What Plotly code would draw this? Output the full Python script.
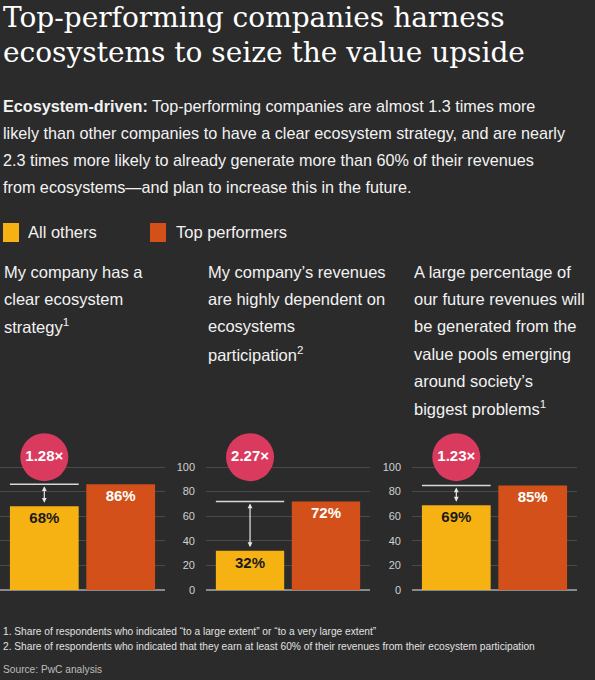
import plotly.graph_objects as go

# ---- data ----
series_names = ["All others", "Top performers"]
panel_questions = [
    ["My company has a", "clear ecosystem", "strategy<sup>1</sup>"],
    ["My company\u2019s revenues", "are highly dependent on", "ecosystems", "participation<sup>2</sup>"],
    ["A large percentage of", "our future revenues will", "be generated from the",
     "value pools emerging", "around society\u2019s", "biggest problems<sup>1</sup>"],
]
all_others = [68, 32, 69]
top_performers = [86, 72, 85]
ratio_labels = ["1.28\u00d7", "2.27\u00d7", "1.23\u00d7"]
tick_values = [0, 20, 40, 60, 80, 100]

title_lines = ["Top-performing companies harness", "ecosystems to seize the value upside"]
subtitle_lines = [
    "<b>Ecosystem-driven:</b> Top-performing companies are almost 1.3 times more",
    "likely than other companies to have a clear ecosystem strategy, and are nearly",
    "2.3 times more likely to already generate more than 60% of their revenues",
    "from ecosystems\u2014and plan to increase this in the future.",
]
footnotes = [
    "1. Share of respondents who indicated \u201cto a large extent\u201d or \u201cto a very large extent\u201d",
    "2. Share of respondents who indicated that they earn at least 60% of their revenues from their ecosystem participation",
]
source_text = "Source: PwC analysis"

# ---- style ----
W, H = 595, 680
BG = "#2b2b2b"
YELLOW = "#F6B213"
ORANGE = "#D3501A"
PINK = "#D93A5E"
SANS = "Liberation Sans, Arial, sans-serif"
SERIF = "DejaVu Serif, Georgia, serif"

def X(px):
    return px / W

def Y(py):
    return 1 - py / H

panel_px = [(0, 165), (206, 370), (412, 577)]
PX_PER_UNIT = 1.23
Y_TOP = 130
y_dom = [Y(590), Y(590 - Y_TOP * PX_PER_UNIT)]
bargap = 0.1
bw = 1 - bargap
badge_y = 108

fig = go.Figure()
annotations = []
shapes = []

for i in range(3):
    xa = "x" if i == 0 else f"x{i+1}"
    ya = "y" if i == 0 else f"y{i+1}"
    fig.add_trace(go.Bar(
        x=[0, 1], y=[all_others[i], top_performers[i]],
        marker=dict(color=[YELLOW, ORANGE], line=dict(width=0)),
        text=[f"{all_others[i]}%", f"{top_performers[i]}%"],
        textposition="inside", insidetextanchor="end",
        textfont=dict(family=SANS, size=15, color=["#1a1a1a", "#ffffff"], weight="bold"),
        textangle=0,
        xaxis=xa, yaxis=ya, showlegend=False, hoverinfo="skip",
    ))
    # reference line at the top performers' value
    shapes.append(dict(type="line", xref=xa, yref=ya,
                       x0=-bw / 2, x1=bw / 2, y0=top_performers[i], y1=top_performers[i],
                       line=dict(color="#d8d8d8", width=1.5)))
    # double-headed arrow between the two values
    annotations.append(dict(xref=xa, yref=ya, axref=xa, ayref=ya,
                            x=0, y=top_performers[i], ax=0, ay=all_others[i],
                            text="", showarrow=True, arrowside="end+start",
                            arrowhead=2, arrowsize=0.8, arrowwidth=1.2,
                            arrowcolor="#e6e6e6", standoff=2, startstandoff=2))
    # ratio badge
    fig.add_trace(go.Scatter(
        x=[0], y=[badge_y], mode="markers+text",
        marker=dict(size=48, color=PINK, line=dict(width=0)),
        text=[f"<b>{ratio_labels[i]}</b>"], textposition="middle center",
        textfont=dict(family=SANS, size=15, color="white"),
        cliponaxis=False, xaxis=xa, yaxis=ya, showlegend=False, hoverinfo="skip",
    ))
    x0, x1 = panel_px[i]
    xkey = "xaxis" if i == 0 else f"xaxis{i+1}"
    ykey = "yaxis" if i == 0 else f"yaxis{i+1}"
    fig.layout[xkey] = dict(domain=[X(x0), X(x1)], range=[-0.58, 1.58], visible=False,
                            fixedrange=True)
    fig.layout[ykey] = dict(domain=y_dom, range=[0, Y_TOP], tickvals=tick_values,
                            showgrid=True, gridcolor="#4a4a4a", gridwidth=1,
                            zeroline=True, zerolinecolor="#8a8a8a", zerolinewidth=2,
                            showline=False, ticks="",
                            showticklabels=(i > 0), ticklabelstandoff=10,
                            tickfont=dict(family=SANS, size=11, color="#d0d0d0"),
                            anchor=xa, fixedrange=True, automargin=False)
    # question text above each panel
    for j, line in enumerate(panel_questions[i]):
        annotations.append(dict(xref="paper", yref="paper", x=X(x0 + 2 if i == 0 else x0),
                                y=Y(272 + 27.2 * j), xanchor="left", yanchor="middle",
                                text=line, showarrow=False,
                                font=dict(family=SANS, size=16.5, color="#f2f2f2")))

fig.update_layout(barmode="group", bargap=bargap)

# title
for j, line in enumerate(title_lines):
    annotations.append(dict(xref="paper", yref="paper", x=X(1), y=Y(17 + 36 * j),
                            xanchor="left", yanchor="middle", text=line, showarrow=False,
                            font=dict(family=SERIF, size=28, color="#ffffff")))
# subtitle
for j, line in enumerate(subtitle_lines):
    annotations.append(dict(xref="paper", yref="paper", x=X(1), y=Y(106 + 27 * j),
                            xanchor="left", yanchor="middle", text=line, showarrow=False,
                            font=dict(family=SANS, size=16.2, color="#f2f2f2")))
# legend
legend_px = [(3, 26), (150, 174)]
for k, name in enumerate(series_names):
    sx, tx = legend_px[k]
    shapes.append(dict(type="rect", xref="paper", yref="paper",
                       x0=X(sx), x1=X(sx + 16), y0=Y(242), y1=Y(223),
                       fillcolor=[YELLOW, ORANGE][k], line=dict(width=0)))
    annotations.append(dict(xref="paper", yref="paper", x=X(tx), y=Y(232),
                            xanchor="left", yanchor="middle", text=name, showarrow=False,
                            font=dict(family=SANS, size=16.5, color="#f2f2f2")))
# footnotes
for j, line in enumerate(footnotes):
    annotations.append(dict(xref="paper", yref="paper", x=X(1), y=Y(631 + 15 * j),
                            xanchor="left", yanchor="middle", text=line, showarrow=False,
                            font=dict(family=SANS, size=10.2, color="#e0e0e0")))
annotations.append(dict(xref="paper", yref="paper", x=X(1), y=Y(669),
                        xanchor="left", yanchor="middle", text=source_text, showarrow=False,
                        font=dict(family=SANS, size=10.2, color="#bdbdbd")))

fig.update_layout(width=W, height=H, margin=dict(l=0, r=0, t=0, b=0),
                  paper_bgcolor=BG, plot_bgcolor=BG, showlegend=False,
                  annotations=annotations, shapes=shapes)

fig.write_html("out.html", config={"displayModeBar": False},
               post_script="document.documentElement.style.overflow='hidden';document.body.style.margin='0';document.body.style.overflow='hidden';document.body.style.background='#2b2b2b';")
